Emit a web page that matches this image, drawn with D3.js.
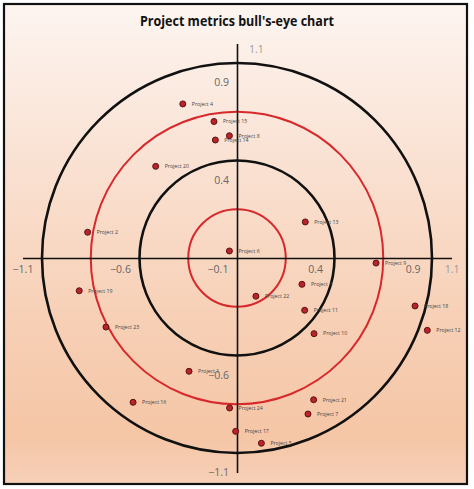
<!DOCTYPE html>
<html>
<head>
<meta charset="utf-8">
<script src="https://cdn.jsdelivr.net/npm/d3@7"></script>
<style>
  html, body { margin: 0; padding: 0; background: #ffffff; }
  svg { display: block; }
</style>
</head>
<body>
<svg id="chart" width="474" height="489"></svg>
<script>
// ---- data ----
const projects = ["Project 1","Project 2","Project 3","Project 4","Project 5","Project 6","Project 7","Project 8",
  "Project 9","Project 10","Project 11","Project 12","Project 13","Project 14","Project 15","Project 16",
  "Project 17","Project 18","Project 19","Project 20","Project 21","Project 22","Project 23","Project 24"];
const xValues = [-0.246,-0.766,0.333,-0.278,0.125,-0.039,0.364,-0.039,
  0.713,0.395,0.347,0.976,0.350,-0.111,-0.118,-0.533,
  -0.007,0.913,-0.809,-0.417,0.393,0.097,-0.672,-0.038];
const yValues = [-0.581,0.132,-0.135,0.790,-0.950,0.036,-0.800,0.627,
  -0.026,-0.388,-0.268,-0.371,0.185,0.605,0.700,-0.740,
  -0.889,-0.246,-0.168,0.470,-0.727,-0.196,-0.354,-0.769];
const ringRadii = [1.0, 0.75, 0.5, 0.25];
const ringKinds = ["black", "red", "black", "red"];
const xTickValues = [-1.1, -0.6, -0.1, 0.4, 0.9, 1.1];
const yTickValues = [-1.1, -0.6, 0.4, 0.9];
const yTopTick = [1.1];
const titleText = "Project metrics bull's-eye chart";

// ---- layout ----
const W = 474, H = 489;
const cx = 237, cy = 258, R = 214.5;
const svg = d3.select("#chart");

const defs = svg.append("defs");
const grad = defs.append("linearGradient").attr("id", "bg").attr("x1", 0).attr("y1", 0).attr("x2", 0).attr("y2", 1);
grad.append("stop").attr("offset", "0%").attr("stop-color", "#fdf5f1");
grad.append("stop").attr("offset", "30%").attr("stop-color", "#fae3d5");
grad.append("stop").attr("offset", "65%").attr("stop-color", "#f7d0b6");
grad.append("stop").attr("offset", "90%").attr("stop-color", "#f5c6a6");
grad.append("stop").attr("offset", "100%").attr("stop-color", "#f7d0b8");

svg.append("rect").attr("x", 4).attr("y", 4).attr("width", 463).attr("height", 480)
  .attr("fill", "url(#bg)").attr("stroke", "#111").attr("stroke-width", 2.2);

const x = d3.scaleLinear().domain([-1.1, 1.1]).range([cx - R, cx + R]);
const y = d3.scaleLinear().domain([-1.1, 1.1]).range([cy + R, cy - R]);
const unit = x(1) - x(0);

// title
svg.append("text").attr("x", cx).attr("y", 26).attr("text-anchor", "middle")
  .attr("font-family", "'Open Sans', 'Liberation Sans', sans-serif").attr("font-weight", "bold")
  .attr("font-size", 14.5).attr("fill", "#111")
  .attr("textLength", 194).attr("lengthAdjust", "spacingAndGlyphs")
  .text(titleText);

// rings
svg.append("g").selectAll("circle").data(ringRadii).join("circle")
  .attr("cx", x(0)).attr("cy", y(0))
  .attr("r", d => d * unit)
  .attr("fill", "none")
  .attr("stroke", (d, i) => ringKinds[i] === "red" ? "#d8282b" : "#111")
  .attr("stroke-width", (d, i) => ringKinds[i] === "red" ? 2 : 2.6);

// axes
const labelFont = "'Open Sans', 'Liberation Sans', sans-serif";
const xAxis = svg.append("g").attr("transform", `translate(0,${y(0)})`)
  .call(d3.axisBottom(x).tickValues(xTickValues).tickSize(0).tickPadding(8).tickFormat(d3.format(".1f")));
xAxis.select(".domain").attr("stroke", "#111").attr("stroke-width", 1.6);
xAxis.selectAll("text").attr("font-family", labelFont).attr("font-size", 10.5)
  .attr("fill", d => d === 1.1 ? "#9a9a9a" : "#666");

const yAxis = svg.append("g").attr("transform", `translate(${x(0)},0)`)
  .call(d3.axisLeft(y).tickValues(yTickValues).tickSize(0).tickPadding(8).tickFormat(d3.format(".1f")));
yAxis.select(".domain").attr("stroke", "#111").attr("stroke-width", 1.6);
yAxis.selectAll("text").attr("font-family", labelFont).attr("font-size", 10.5)
  .attr("fill", "#666").attr("dy", "0.32em");

const yAxisTop = svg.append("g").attr("transform", `translate(${x(0)},6)`)
  .call(d3.axisRight(y).tickValues(yTopTick).tickSize(0).tickPadding(12).tickFormat(d3.format(".1f")));
yAxisTop.select(".domain").remove();
yAxisTop.selectAll("text").attr("font-family", labelFont).attr("font-size", 10.5).attr("fill", "#9a9a9a");

// points
const pts = projects.map((name, i) => ({ name, vx: xValues[i], vy: yValues[i] }));
const pg = svg.append("g");
pg.selectAll("circle").data(pts).join("circle")
  .attr("cx", d => x(d.vx)).attr("cy", d => y(d.vy)).attr("r", 3)
  .attr("fill", "#b8242a").attr("stroke", "#5c1212").attr("stroke-width", 1);
pg.selectAll("text").data(pts).join("text")
  .attr("x", d => x(d.vx) + 9).attr("y", d => y(d.vy)).attr("dy", "0.35em")
  .attr("font-family", labelFont).attr("font-size", 5.2).attr("fill", "#444")
  .text(d => d.name);
</script>
</body>
</html>
